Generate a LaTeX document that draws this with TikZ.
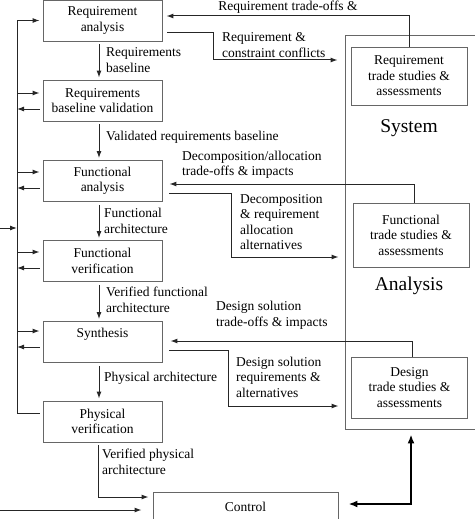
\documentclass[tikz,border=0pt]{standalone}
\usepackage{fontspec}
\setmainfont{Liberation Serif}
\usetikzlibrary{arrows.meta}
\begin{document}
\begin{tikzpicture}[x=1pt, y=-1pt, font=\fontsize{13.5}{15.5}\selectfont,
    box/.style={draw=black!60, line width=0.9pt, align=center, inner sep=2pt},
    lbox/.style={box, minimum width=119pt, minimum height=41pt},
    tbox/.style={box, minimum width=116pt, minimum height=60pt},
    flow/.style={draw=black!85, line width=1pt, -{Latex[length=7pt,width=5pt]}, shorten >=3pt},
    lbl/.style={align=left, anchor=west, inner sep=0pt}]
  \useasboundingbox (0,0) rectangle (474,519);
  \node[lbox] (ra) at (102.5,20.5) {Requirement\\analysis};
  \node[lbox] (bv) at (102.5,100.5) {Requirements\\baseline validation};
  \node[lbox] (fa) at (102.5,181) {Functional\\analysis};
  \node[lbox] (fv) at (102.5,261) {Functional\\verification};
  \node[lbox] (syn) at (102.5,342) {};
  \node (syntxt) at (102.5,334) {Synthesis};
  \node[lbox] (pv) at (102.5,421.5) {Physical\\verification};
  \node[box, minimum width=185pt, minimum height=30pt] (ctl) at (245.5,507) {Control};
  \node[draw=black!60, line width=0.9pt, minimum width=160pt, minimum height=394pt] (sys) at (425,232) {};
  \node[tbox, minimum height=58pt] (rts) at (409,76) {Requirement\\trade studies \&\\assessments};
  \node[tbox, minimum height=64pt] (fts) at (411,235) {Functional\\trade studies \&\\assessments};
  \node[tbox, minimum height=61pt] (dts) at (409.5,387.5) {Design\\trade studies \&\\assessments};
  \node[font=\fontsize{19.5}{22}\selectfont] (syslbl) at (409,128) {System};
  \node[font=\fontsize{19.5}{22}\selectfont] (analbl) at (409,286) {Analysis};

  \coordinate (bus) at (17,20.5);
  \coordinate (ext) at (0,228);
  \coordinate (ctlin) at (0,510);
  \draw[flow, shorten <=3pt] ([yshift=8.5pt]pv.west) -| (bus) -- (ra.west);
  \foreach \b/\u/\d in {bv/7.5/8.5, fa/9/7, fv/9/7, syn/11/5} {
    \draw[flow] ([yshift=\u pt]\b.west -| bus) -- ([yshift=\u pt]\b.west);
    \draw[flow, shorten >=0pt, shorten <=3pt] ([yshift=-\d pt]\b.west) -- ([yshift=-\d pt]\b.west -| bus);
  }
  \draw[flow, shorten >=0pt] (ext) -- (ext -| bus);
  \foreach \a/\b in {ra/bv, bv/fa, fa/fv, fv/syn, syn/pv}
    \draw[flow, shorten <=3pt, shorten >=2pt] ([xshift=-3.5pt]\a.south) -- ([xshift=-3.5pt]\b.north);

  \draw[flow, shorten >=4pt] (rts.north) |- ([yshift=4.5pt]ra.east);
  \draw[flow, shorten <=5pt, shorten >=7pt] ([yshift=-12.5pt]ra.east) -- ++(51,0) |- (sys.west |- 0,60);
  \draw[flow, shorten >=7pt] ([xshift=3pt]fts.north) |- ([yshift=-3pt]fa.east);
  \draw[flow, shorten <=7pt, shorten >=6pt] ([yshift=-12pt]fa.east) -- ++(69,0) |- (sys.west |- 0,257);
  \draw[flow, shorten >=8pt] ([xshift=2.5pt]dts.north) |- ([yshift=1pt]syn.east);
  \draw[flow, shorten <=7pt, shorten >=6pt] ([yshift=-8pt]syn.east) -- ++(66,0) |- (sys.west |- 0,406);
  \draw[flow, shorten <=3pt, shorten >=4pt] ([xshift=-4.5pt]pv.south) |- ([yshift=10pt]ctl.west);
  \draw[flow, shorten >=11pt] (ctlin) -- (ctlin -| ctl.west);
  \draw[draw=black, line width=2.2pt, {Latex[length=9pt,width=7pt]}-{Latex[length=9pt,width=7pt]}, shorten <=10pt, shorten >=5pt]
    (ctl.east |- 0,504) -| ([xshift=1.5pt]dts.south |- sys.south);

  \node[lbl] (l1) at (106,60) {Requirements\\baseline};
  \node[lbl] (l2) at (106,137) {Validated requirements baseline};
  \node[lbl] (l3) at (104,221) {Functional\\architecture};
  \node[lbl] (l4) at (106,300) {Verified functional\\architecture};
  \node[lbl] (l5) at (104,378) {Physical architecture};
  \node[lbl] (l6) at (102,462) {Verified physical\\architecture};
  \node[inner sep=0pt] (l7) at (288,7) {Requirement trade-offs \&};
  \node[lbl] (l8) at (222,45) {Requirement \&\\constraint conflicts};
  \node[lbl] (l9) at (182,165) {Decomposition/allocation\\trade-offs \& impacts};
  \node[lbl] (l10) at (240,222) {Decomposition\\\& requirement\\allocation\\alternatives};
  \node[lbl] (l11) at (216,315) {Design solution\\trade-offs \& impacts};
  \node[lbl] (l12) at (236,377) {Design solution\\requirements \&\\alternatives};
\end{tikzpicture}
\end{document}
